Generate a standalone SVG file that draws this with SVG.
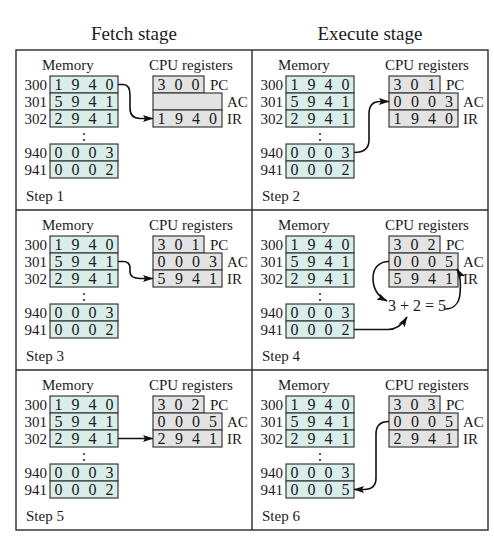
<svg xmlns="http://www.w3.org/2000/svg" width="494" height="536" viewBox="0 0 494 536">
<style>
text{font-family:"Liberation Serif","Times New Roman",serif;fill:#1a1a1a}
.t{font-size:19px;text-anchor:middle}
.h{font-size:15px}
.d{font-size:16px;text-anchor:middle}
.a{font-size:15px;text-anchor:end}
.mem{fill:#d9ede9;stroke:#3a3a3a;stroke-width:1.2}
.reg{fill:#e3e3e3;stroke:#3a3a3a;stroke-width:1.2}
.frame{fill:none;stroke:#2a2a2a;stroke-width:1.4}
.c{fill:none;stroke:#111;stroke-width:1.6}
</style>
<defs>
<marker id="ah" markerUnits="userSpaceOnUse" markerWidth="11" markerHeight="8" refX="10" refY="4" orient="auto">
<path d="M0,0.5 L10.5,4 L0,7.5 L2,4 z" fill="#111"/>
</marker>
<g id="memtpl">
<rect class="mem" x="50" y="76" width="68" height="17"/>
<rect class="mem" x="50" y="93" width="68" height="17"/>
<rect class="mem" x="50" y="110" width="68" height="17"/>
<rect class="mem" x="50" y="144" width="68" height="17"/>
<rect class="mem" x="50" y="161" width="68" height="17"/>
<text class="a" x="47" y="89.5">300</text>
<text class="a" x="47" y="106.5">301</text>
<text class="a" x="47" y="123.5">302</text>
<text class="a" x="47" y="157.5">940</text>
<text class="a" x="47" y="174.5">941</text>
<text class="d" x="84" y="141">:</text>
<text class="h" x="42" y="70">Memory</text>
<text class="h" x="149" y="70">CPU registers</text>
<rect class="reg" x="153" y="76" width="51" height="17"/>
<rect class="reg" x="153" y="93" width="69" height="17"/>
<rect class="reg" x="153" y="110" width="69" height="17"/>
<text class="h" x="210" y="89.5">PC</text>
<text class="h" x="227" y="106.5">AC</text>
<text class="h" x="227" y="123.5">IR</text>
<text class="d" x="58.5 75.5 92.5 109.5" y="90">1940</text>
<text class="d" x="58.5 75.5 92.5 109.5" y="107">5941</text>
<text class="d" x="58.5 75.5 92.5 109.5" y="124">2941</text>
<text class="d" x="58.5 75.5 92.5 109.5" y="158">0003</text>
</g>
</defs>
<rect width="494" height="536" fill="#fff"/>
<text class="t" x="134" y="40">Fetch stage</text>
<text class="t" x="370" y="40">Execute stage</text>
<g id="frame">
<rect class="frame" x="16" y="50" width="472" height="480"/>
<line class="frame" x1="252" y1="50" x2="252" y2="530"/>
<line class="frame" x1="16" y1="210" x2="488" y2="210"/>
<line class="frame" x1="16" y1="370" x2="488" y2="370"/>
</g>
<g id="step1">
<use href="#memtpl"/>
<text class="d" x="58.5 75.5 92.5 109.5" y="175">0002</text>
<text class="d" x="161.5 178.5 195.5" y="90">300</text>
<text class="d" x="161.5 179 196 213" y="124">1940</text>
<text class="h" x="26" y="201">Step 1</text>
</g>
<g id="step2" transform="translate(236,0)">
<use href="#memtpl"/>
<text class="d" x="58.5 75.5 92.5 109.5" y="175">0002</text>
<text class="d" x="161.5 178.5 195.5" y="90">301</text>
<text class="d" x="161.5 179 196 213" y="107">0003</text>
<text class="d" x="161.5 179 196 213" y="124">1940</text>
<text class="h" x="26" y="201">Step 2</text>
</g>
<g id="step3" transform="translate(0,160)">
<use href="#memtpl"/>
<text class="d" x="58.5 75.5 92.5 109.5" y="175">0002</text>
<text class="d" x="161.5 178.5 195.5" y="90">301</text>
<text class="d" x="161.5 179 196 213" y="107">0003</text>
<text class="d" x="161.5 179 196 213" y="124">5941</text>
<text class="h" x="26" y="201">Step 3</text>
</g>
<g id="step4" transform="translate(236,160)">
<use href="#memtpl"/>
<text class="d" x="58.5 75.5 92.5 109.5" y="175">0002</text>
<text class="d" x="161.5 178.5 195.5" y="90">302</text>
<text class="d" x="161.5 179 196 213" y="107">0005</text>
<text class="d" x="161.5 179 196 213" y="124">5941</text>
<text class="h" x="26" y="201">Step 4</text>
<text class="d" x="181" y="151">3 + 2 = 5</text>
</g>
<g id="step5" transform="translate(0,320)">
<use href="#memtpl"/>
<text class="d" x="58.5 75.5 92.5 109.5" y="175">0002</text>
<text class="d" x="161.5 178.5 195.5" y="90">302</text>
<text class="d" x="161.5 179 196 213" y="107">0005</text>
<text class="d" x="161.5 179 196 213" y="124">2941</text>
<text class="h" x="26" y="201">Step 5</text>
</g>
<g id="step6" transform="translate(236,320)">
<use href="#memtpl"/>
<text class="d" x="58.5 75.5 92.5 109.5" y="175">0005</text>
<text class="d" x="161.5 178.5 195.5" y="90">303</text>
<text class="d" x="161.5 179 196 213" y="107">0005</text>
<text class="d" x="161.5 179 196 213" y="124">2941</text>
<text class="h" x="26" y="201">Step 6</text>
</g>
<g id="connectors">
<path class="c" marker-end="url(#ah)" d="M118,84.5 H123 C128,84.5 130,88 130,95 V108 C130,115 133,118.5 140,118.5 H153"/>
<path class="c" marker-end="url(#ah)" d="M354,152.5 C363,152.5 369,149 369,140 V114 C369,106 373,101.5 380,101.5 H389"/>
<path class="c" marker-end="url(#ah)" d="M118,261.5 H123 C128,261.5 130,264 130,268 V272 C130,276 133,278.5 140,278.5 H153"/>
<path class="c" marker-end="url(#ah)" d="M389,261.5 C379,261.5 373,268 373,278 C373,289 379,297 387,301"/>
<path class="c" marker-end="url(#ah)" d="M354,329.5 H388 C396,329.5 402,325 407,317"/>
<path class="c" marker-end="url(#ah)" d="M445,309 C453,309 459,304 460,294 C461,284 461,276 457,269"/>
<path class="c" marker-end="url(#ah)" d="M118,438.5 H153"/>
<path class="c" marker-end="url(#ah)" d="M389,421.5 C380,421.5 376,426 376,434 V478 C376,486 372,489.5 364,489.5 H354"/>
</g>
</svg>
